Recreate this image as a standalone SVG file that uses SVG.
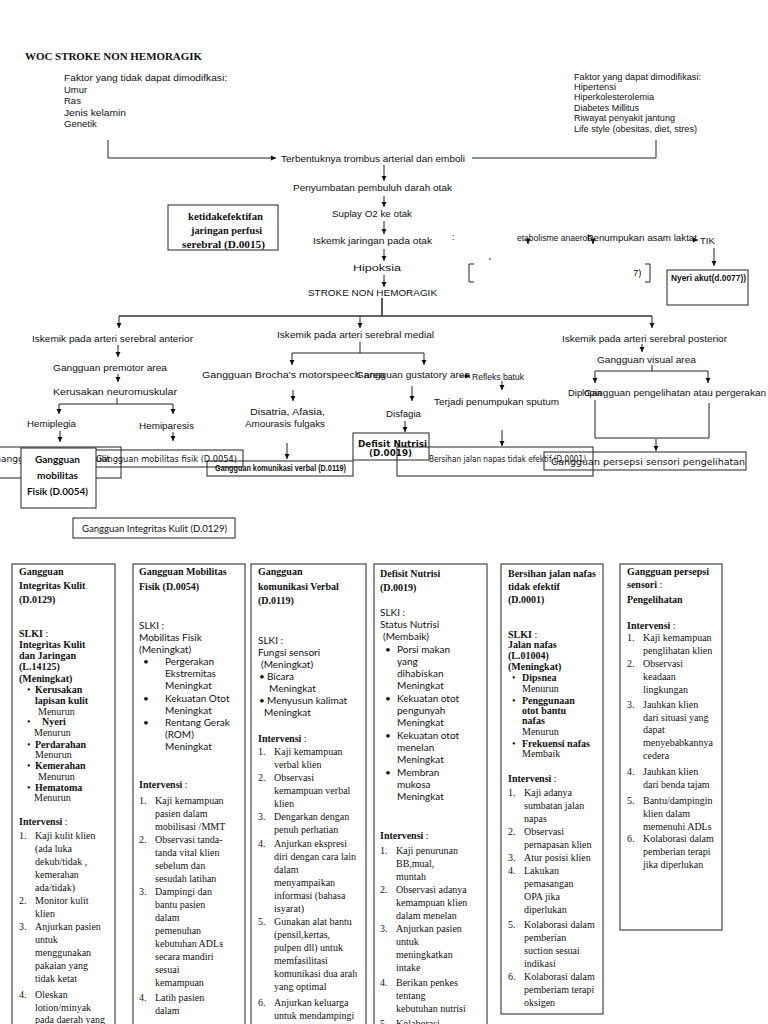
<svg xmlns="http://www.w3.org/2000/svg" width="768" height="1024" viewBox="0 0 768 1024">
<defs>
<style>
.sa{font-family:"Liberation Sans",Arial,sans-serif;font-size:9.5px;fill:#111}
.sr{font-family:"Liberation Serif","Times New Roman",serif;font-size:10px;fill:#111}
.ca{font-family:Lato,"Liberation Sans",sans-serif;font-size:10px;fill:#111}
.dv{font-family:"DejaVu Sans",sans-serif;font-size:9px;fill:#111}
.b{font-weight:bold}
.box{fill:none;stroke:#222;stroke-width:1}
.wbox{fill:#fff;stroke:#222;stroke-width:1}
.ln{fill:none;stroke:#222;stroke-width:1}
.hl{fill:none;stroke:#333;stroke-width:1.6}
.arr{marker-end:url(#ah)}
</style>
<marker id="ah" viewBox="0 0 6 6" refX="6" refY="3" markerWidth="5" markerHeight="6" markerUnits="userSpaceOnUse" orient="auto"><path d="M0,0L6,3L0,6z" fill="#111"/></marker>
</defs>
<rect width="768" height="1024" fill="#fff"/>

<text id="title" class="sr b" x="25" y="60" font-size="11" textLength="177" lengthAdjust="spacingAndGlyphs">WOC STROKE NON HEMORAGIK</text>

<g id="faktor-tidak">
<text class="sa" x="64" y="81" textLength="163" lengthAdjust="spacingAndGlyphs">Faktor yang tidak dapat dimodifkasi:</text>
<text class="sa" x="64" y="92.5">Umur</text>
<text class="sa" x="64" y="104">Ras</text>
<text class="sa" x="64" y="115.5" textLength="62" lengthAdjust="spacingAndGlyphs">Jenis kelamin</text>
<text class="sa" x="64" y="127">Genetik</text>
</g>

<g id="faktor-dapat">
<text class="sa" x="574" y="79.5" textLength="127" lengthAdjust="spacingAndGlyphs">Faktor yang dapat dimodifikasi:</text>
<text class="sa" x="574" y="90" textLength="42" lengthAdjust="spacingAndGlyphs">Hipertensi</text>
<text class="sa" x="574" y="100" textLength="80" lengthAdjust="spacingAndGlyphs">Hiperkolesterolemia</text>
<text class="sa" x="574" y="110.5" textLength="65" lengthAdjust="spacingAndGlyphs">Diabetes Millitus</text>
<text class="sa" x="574" y="121" textLength="101" lengthAdjust="spacingAndGlyphs">Riwayat penyakit jantung</text>
<text class="sa" x="574" y="131.5" textLength="123" lengthAdjust="spacingAndGlyphs">Life style (obesitas, diet, stres)</text>
</g>

<g id="n-trombus"><text class="sa" x="281" y="162" textLength="184" lengthAdjust="spacingAndGlyphs">Terbentuknya trombus arterial dan emboli</text></g>
<g id="n-penyumbatan"><text class="sa" x="293" y="190.5" textLength="159" lengthAdjust="spacingAndGlyphs">Penyumbatan pembuluh darah otak</text></g>
<g id="n-suplay"><text class="sa" x="332" y="216.5" textLength="80" lengthAdjust="spacingAndGlyphs">Suplay O2 ke otak</text></g>
<g id="n-iskemk"><text class="sa" x="313" y="243.5" textLength="119" lengthAdjust="spacingAndGlyphs">Iskemk jaringan pada otak</text></g>
<g id="n-hipoksia"><text class="sa" x="353" y="270.5" textLength="48" lengthAdjust="spacingAndGlyphs">Hipoksia</text></g>
<g id="n-stroke"><text class="sa" x="308" y="295.5" textLength="129" lengthAdjust="spacingAndGlyphs">STROKE NON HEMORAGIK</text></g>

<g id="n-perfusi">
<rect class="box" x="168" y="205" width="110" height="45"/>
<text class="sr b" font-size="9" x="188" y="219.5" textLength="75" lengthAdjust="spacingAndGlyphs">ketidakefektifan</text>
<text class="sr b" font-size="9" x="191" y="233.5" textLength="71" lengthAdjust="spacingAndGlyphs">jaringan perfusi</text>
<text class="sr b" font-size="9" x="182" y="247.5" textLength="83" lengthAdjust="spacingAndGlyphs">serebral (D.0015)</text>
</g>

<g id="n-metabolisme">
<text class="sa" x="452" y="240" font-size="7" fill="#999">:</text>
<text class="sa" x="517" y="240.5" textLength="75" lengthAdjust="spacingAndGlyphs">etabolisme anaerob</text>
<text class="sa" x="587" y="240.5" textLength="110" lengthAdjust="spacingAndGlyphs">Penumpukan asam laktat</text>
<text class="sa" x="700" y="244" font-size="10" fill="#444">TIK</text>
<circle cx="490" cy="259" r="0.8" fill="#111"/>
<path class="ln" d="M474,264H469V282H474M645,264H650V282H645"/>
<text class="sa" x="633" y="276">7)</text>
</g>

<g id="n-nyeri">
<rect class="box" x="667" y="270" width="81" height="35"/>
<text class="sa b" font-size="6.5" x="671" y="280.5" textLength="75" lengthAdjust="spacingAndGlyphs">Nyeri akut(d.0077))</text>
</g>

<g id="n-anterior"><text class="sa" x="32" y="341.5" textLength="161" lengthAdjust="spacingAndGlyphs">Iskemik pada arteri serebral anterior</text></g>
<g id="n-medial"><text class="sa" x="277" y="337.5" textLength="157" lengthAdjust="spacingAndGlyphs">Iskemik pada arteri serebral medial</text></g>
<g id="n-posterior"><text class="sa" x="562" y="341.5" textLength="165" lengthAdjust="spacingAndGlyphs">Iskemik pada arteri serebral posterior</text></g>
<g id="n-premotor"><text class="sa" x="53" y="370.5" textLength="114" lengthAdjust="spacingAndGlyphs">Gangguan premotor area</text></g>
<g id="n-neuromuskular"><text class="sa" x="53" y="394.5" textLength="124" lengthAdjust="spacingAndGlyphs">Kerusakan neuromuskular</text></g>
<g id="n-hemiplegia"><text class="sa" x="27" y="426.5" textLength="49" lengthAdjust="spacingAndGlyphs">Hemiplegia</text></g>
<g id="n-hemiparesis"><text class="sa" x="139" y="428.5" textLength="55" lengthAdjust="spacingAndGlyphs">Hemiparesis</text></g>
<g id="n-brocha"><text class="sa" x="202" y="377.5" textLength="183" lengthAdjust="spacingAndGlyphs">Gangguan Brocha's motorspeech area</text></g>
<g id="n-gustatory"><text class="sa" x="356" y="377.5" textLength="114" lengthAdjust="spacingAndGlyphs">Gangguan gustatory area</text></g>
<g id="n-refleks"><text class="sa" x="472" y="379.5" textLength="52" lengthAdjust="spacingAndGlyphs">Refleks batuk</text></g>
<g id="n-disatria">
<text class="sa" x="250" y="414.5" textLength="75" lengthAdjust="spacingAndGlyphs">Disatria, Afasia,</text>
<text class="sa" x="245" y="426.5" textLength="80" lengthAdjust="spacingAndGlyphs">Amourasis fulgaks</text>
</g>
<g id="n-disfagia"><text class="sa" x="386" y="416.5" textLength="35" lengthAdjust="spacingAndGlyphs">Disfagia</text></g>
<g id="n-sputum"><text class="sa" x="434" y="404.5" textLength="125" lengthAdjust="spacingAndGlyphs">Terjadi penumpukan sputum</text></g>
<g id="n-visual"><text class="sa" x="597" y="362.5" textLength="99" lengthAdjust="spacingAndGlyphs">Gangguan visual area</text></g>
<g id="n-diplopia"><text class="sa" x="568" y="395.5" textLength="34" lengthAdjust="spacingAndGlyphs">Diplopia</text></g>
<g id="n-pengelihatan"><text class="sa" x="584" y="395.5" textLength="182" lengthAdjust="spacingAndGlyphs">Gangguan pengelihatan atau pergerakan</text></g>

<g id="d-integritas-1">
<rect class="box" x="-10" y="447" width="131" height="31"/>
<text class="dv" x="-6" y="461.5" textLength="116" lengthAdjust="spacingAndGlyphs">Gangguan Integritas Kulit</text>
</g>
<g id="d-mobilitas-2">
<rect class="box" x="90" y="450" width="153" height="17"/>
<text class="dv" x="96" y="461.5" textLength="141" lengthAdjust="spacingAndGlyphs">Gangguan mobilitas fisik (D.0054)</text>
</g>
<g id="d-mobilitas-1">
<rect class="wbox" x="21" y="448" width="75" height="60"/>
<text class="ca b" x="35" y="463" textLength="45" lengthAdjust="spacingAndGlyphs">Gangguan</text>
<text class="ca b" x="37" y="479" textLength="41" lengthAdjust="spacingAndGlyphs">mobilitas</text>
<text class="ca b" x="27" y="494.5" textLength="61" lengthAdjust="spacingAndGlyphs">Fisik (D.0054)</text>
</g>
<g id="d-komunikasi">
<rect class="box" x="207" y="461" width="146" height="15"/>
<text class="sa b" font-size="6.5" x="215" y="470.5" textLength="131" lengthAdjust="spacingAndGlyphs">Gangguan komunikasi verbal (D.0119)</text>
</g>
<g id="d-defisit">
<rect class="box" x="353" y="433" width="76" height="27"/>
<text class="dv b" x="358" y="446.5" textLength="69" lengthAdjust="spacingAndGlyphs">Defisit Nutrisi</text>
<text class="dv b" x="369" y="456" textLength="43" lengthAdjust="spacingAndGlyphs">(D.0019)</text>
</g>
<g id="d-bersihan">
<rect class="box" x="397" y="447" width="196" height="29"/>
<text class="dv" x="429" y="461.5" textLength="157" lengthAdjust="spacingAndGlyphs">Bersihan jalan napas tidak efektif (D.0001)</text>
</g>
<g id="d-persepsi">
<rect class="box" x="544" y="452" width="202" height="18"/>
<text class="dv" x="551" y="464.5" textLength="194" lengthAdjust="spacingAndGlyphs">Gangguan persepsi sensori pengelihatan</text>
</g>
<g id="d-integritas-2">
<rect class="box" x="73" y="518" width="162" height="20"/>
<text class="ca" x="82" y="531.5" textLength="145" lengthAdjust="spacingAndGlyphs">Gangguan Integritas Kulit (D.0129)</text>
</g>

<g id="connectors">
<path class="ln arr" d="M108,140V158H276"/>
<path class="ln" d="M656,140V158H472"/>
<path class="ln arr" d="M384,165V181"/>
<path class="ln arr" d="M384,196V207"/>
<path class="ln arr" d="M384,221V234"/>
<path class="ln arr" d="M384,249V261"/>
<path class="ln arr" d="M384,275V287"/>
<path class="hl" d="M382,298V316M119,316H652"/>
<path class="ln arr" d="M119,316V328"/>
<path class="ln arr" d="M360,316V328"/>
<path class="ln arr" d="M652,316V328"/>
<path class="ln arr" d="M118,345V357"/>
<path class="ln arr" d="M118,374V382"/>
<path class="ln" d="M117,398V404M59,404H173"/>
<path class="ln arr" d="M59,404V414"/>
<path class="ln arr" d="M173,404V414"/>
<path class="ln arr" d="M60,431V442"/>
<path class="ln arr" d="M173,432V441"/>
<path class="ln" d="M360,342V353M292,353H424"/>
<path class="ln arr" d="M292,353V365"/>
<path class="ln arr" d="M424,353V365"/>
<path class="ln arr" d="M293,390V401"/>
<path class="ln arr" d="M287,443V459"/>
<path class="ln arr" d="M412,386V401"/>
<path class="ln arr" d="M405,421V432"/>
<path class="ln arr" d="M460,376H470"/>
<path class="ln arr" d="M502,381V390"/>
<path class="ln arr" d="M502,430V446"/>
<path class="ln arr" d="M642,344V352"/>
<path class="ln" d="M652,365V371M595,371H708"/>
<path class="ln arr" d="M595,371V383"/>
<path class="ln arr" d="M708,371V383"/>
<path class="ln" d="M595,400V438H709V403"/>
<path class="ln arr" d="M656,439V451"/>
<path class="ln arr" d="M714,248V266"/>
<path class="ln arr" d="M528,238V244"/>
<path class="ln arr" d="M593,238V244"/>
<path class="ln arr" d="M692,240H698"/>
</g>

<g id="col-integritas">
<rect class="box" x="12" y="564" width="103" height="480"/>
<text class="sr b"><tspan x="19" y="574.5">Gangguan</tspan><tspan x="19" y="588.5">Integritas Kulit</tspan><tspan x="19" y="602.5">(D.0129)</tspan></text>
<text class="sr"><tspan x="19" y="636.5" font-weight="bold">SLKI</tspan><tspan> :</tspan></text>
<text class="sr b"><tspan x="19" y="647.5">Integritas Kulit</tspan><tspan x="19" y="659">dan Jaringan</tspan><tspan x="19" y="670">(L.14125)</tspan><tspan x="19" y="681.5">(Meningkat)</tspan></text>
<text class="sr">
<tspan x="27" y="693">•</tspan><tspan x="35" y="693" font-weight="bold">Kerusakan</tspan>
<tspan x="35" y="704" font-weight="bold">lapisan kulit</tspan>
<tspan x="38" y="714.5">Menurun</tspan>
<tspan x="27" y="725">•</tspan><tspan x="42" y="725" font-weight="bold">Nyeri</tspan>
<tspan x="34" y="735.5">Menurun</tspan>
<tspan x="27" y="747.5">•</tspan><tspan x="35" y="747.5" font-weight="bold">Perdarahan</tspan>
<tspan x="35" y="758">Menurun</tspan>
<tspan x="27" y="769">•</tspan><tspan x="35" y="769" font-weight="bold">Kemerahan</tspan>
<tspan x="38" y="779.5">Menurun</tspan>
<tspan x="27" y="790.5">•</tspan><tspan x="35" y="790.5" font-weight="bold">Hematoma</tspan>
<tspan x="34" y="801">Menurun</tspan>
</text>
<text class="sr"><tspan x="19" y="824.5" font-weight="bold">Intervensi</tspan><tspan> :</tspan></text>
<text class="sr">
<tspan x="19" y="838.5">1.</tspan><tspan x="35" y="838.5">Kaji kulit klien</tspan>
<tspan x="35" y="852">(ada luka</tspan>
<tspan x="35" y="865">dekub/tidak ,</tspan>
<tspan x="35" y="878">kemerahan</tspan>
<tspan x="35" y="890.5">ada/tidak)</tspan>
<tspan x="19" y="903.5">2.</tspan><tspan x="35" y="903.5">Monitor kulit</tspan>
<tspan x="35" y="916.5">klien</tspan>
<tspan x="19" y="929.5">3.</tspan><tspan x="35" y="929.5">Anjurkan pasien</tspan>
<tspan x="35" y="942.5">untuk</tspan>
<tspan x="35" y="955.5">menggunakan</tspan>
<tspan x="35" y="968.5">pakaian yang</tspan>
<tspan x="35" y="981.5">tidak ketat</tspan>
<tspan x="19" y="997.5">4.</tspan><tspan x="35" y="997.5">Oleskan</tspan>
<tspan x="35" y="1010.5">lotion/minyak</tspan>
<tspan x="35" y="1022.5">pada daerah yang</tspan>
</text>
</g>

<g id="col-mobilitas">
<rect class="box" x="133" y="564" width="112" height="480"/>
<text class="sr b"><tspan x="139" y="574.5">Gangguan Mobilitas</tspan><tspan x="139" y="589.5">Fisik (D.0054)</tspan></text>
<text class="ca" font-size="9.5">
<tspan x="139" y="628.5">SLKI :</tspan>
<tspan x="139" y="640.5">Mobilitas Fisik</tspan>
<tspan x="139" y="652.5">(Meningkat)</tspan>
<tspan x="143" y="664.5">•</tspan><tspan x="165" y="664.5">Pergerakan</tspan>
<tspan x="165" y="676.5">Ekstremitas</tspan>
<tspan x="165" y="688.5">Meningkat</tspan>
<tspan x="143" y="701.5">•</tspan><tspan x="165" y="701.5">Kekuatan Otot</tspan>
<tspan x="165" y="713.5">Meningkat</tspan>
<tspan x="143" y="725.5">•</tspan><tspan x="165" y="725.5">Rentang Gerak</tspan>
<tspan x="165" y="737.5">(ROM)</tspan>
<tspan x="165" y="749.5">Meningkat</tspan>
</text>
<text class="sr"><tspan x="139" y="787.5" font-weight="bold">Intervensi</tspan><tspan> :</tspan></text>
<text class="sr">
<tspan x="139" y="803.5">1.</tspan><tspan x="155" y="803.5">Kaji kemampuan</tspan>
<tspan x="155" y="816.5">pasien dalam</tspan>
<tspan x="155" y="829.5">mobilisasi /MMT</tspan>
<tspan x="139" y="842.5">2.</tspan><tspan x="155" y="842.5">Observasi tanda-</tspan>
<tspan x="155" y="855.5">tanda vital klien</tspan>
<tspan x="155" y="868.5">sebelum dan</tspan>
<tspan x="155" y="881.5">sesudah latihan</tspan>
<tspan x="139" y="894.5">3.</tspan><tspan x="155" y="894.5">Dampingi dan</tspan>
<tspan x="155" y="907.5">bantu pasien</tspan>
<tspan x="155" y="920.5">dalam</tspan>
<tspan x="155" y="933.5">pemenuhan</tspan>
<tspan x="155" y="946.5">kebutuhan ADLs</tspan>
<tspan x="155" y="959.5">secara mandiri</tspan>
<tspan x="155" y="972.5">sesuai</tspan>
<tspan x="155" y="985.5">kemampuan</tspan>
<tspan x="139" y="1000.5">4.</tspan><tspan x="155" y="1000.5">Latih pasien</tspan>
<tspan x="155" y="1013.5">dalam</tspan>
</text>
</g>

<g id="col-komunikasi">
<rect class="box" x="251" y="564" width="115" height="480"/>
<text class="sr b"><tspan x="258" y="574.5">Gangguan</tspan><tspan x="258" y="589.5">komunikasi Verbal</tspan><tspan x="258" y="603.5">(D.0119)</tspan></text>
<text class="ca" font-size="9.5">
<tspan x="258" y="643.5">SLKI :</tspan>
<tspan x="258" y="655.5">Fungsi sensori</tspan>
<tspan x="261" y="667.5">(Meningkat)</tspan>
<tspan x="259" y="679.5">•</tspan><tspan x="267" y="679.5">Bicara</tspan>
<tspan x="269" y="691.5">Meningkat</tspan>
<tspan x="259" y="703.5">•</tspan><tspan x="267" y="703.5">Menyusun kalimat</tspan>
<tspan x="264" y="716">Meningkat</tspan>
</text>
<text class="sr"><tspan x="258" y="741.5" font-weight="bold">Intervensi</tspan><tspan> :</tspan></text>
<text class="sr">
<tspan x="258" y="754.5">1.</tspan><tspan x="274" y="754.5">Kaji kemampuan</tspan>
<tspan x="274" y="767.5">verbal klien</tspan>
<tspan x="258" y="780.5">2.</tspan><tspan x="274" y="780.5">Observasi</tspan>
<tspan x="274" y="793.5">kemampuan verbal</tspan>
<tspan x="274" y="806.5">klien</tspan>
<tspan x="258" y="819.5">3.</tspan><tspan x="274" y="819.5">Dengarkan dengan</tspan>
<tspan x="274" y="832.5">penuh perhatian</tspan>
<tspan x="258" y="846.5">4.</tspan><tspan x="274" y="846.5">Anjurkan ekspresi</tspan>
<tspan x="274" y="859.5">diri dengan cara lain</tspan>
<tspan x="274" y="872.5">dalam</tspan>
<tspan x="274" y="885.5">menyampaikan</tspan>
<tspan x="274" y="898.5">informasi (bahasa</tspan>
<tspan x="274" y="911.5">isyarat)</tspan>
<tspan x="258" y="924.5">5.</tspan><tspan x="274" y="924.5">Gunakan alat bantu</tspan>
<tspan x="274" y="937.5">(pensil,kertas,</tspan>
<tspan x="274" y="950.5">pulpen dll) untuk</tspan>
<tspan x="274" y="963.5">memfasilitasi</tspan>
<tspan x="274" y="976.5">komunikasi dua arah</tspan>
<tspan x="274" y="989.5">yang optimal</tspan>
<tspan x="258" y="1005.5">6.</tspan><tspan x="274" y="1005.5">Anjurkan keluarga</tspan>
<tspan x="274" y="1018.5">untuk mendampingi</tspan>
</text>
</g>

<g id="col-nutrisi">
<rect class="box" x="374" y="564" width="113" height="480"/>
<text class="sr b"><tspan x="380" y="576.5">Defisit Nutrisi</tspan><tspan x="380" y="590.5">(D.0019)</tspan></text>
<text class="ca" font-size="9.5">
<tspan x="380" y="615.5">SLKI :</tspan>
<tspan x="380" y="627.5">Status Nutrisi</tspan>
<tspan x="383" y="639.5">(Membaik)</tspan>
<tspan x="385" y="652.5">•</tspan><tspan x="397" y="652.5">Porsi makan</tspan>
<tspan x="397" y="664.5">yang</tspan>
<tspan x="397" y="676.5">dihabiskan</tspan>
<tspan x="397" y="688.5">Meningkat</tspan>
<tspan x="385" y="701.5">•</tspan><tspan x="397" y="701.5">Kekuatan otot</tspan>
<tspan x="397" y="713.5">pengunyah</tspan>
<tspan x="397" y="725.5">Meningkat</tspan>
<tspan x="385" y="738.5">•</tspan><tspan x="397" y="738.5">Kekuatan otot</tspan>
<tspan x="397" y="750.5">menelan</tspan>
<tspan x="397" y="762.5">Meningkat</tspan>
<tspan x="385" y="775.5">•</tspan><tspan x="397" y="775.5">Membran</tspan>
<tspan x="397" y="787.5">mukosa</tspan>
<tspan x="397" y="799.5">Meningkat</tspan>
</text>
<text class="sr"><tspan x="380" y="838.5" font-weight="bold">Intervensi</tspan><tspan> :</tspan></text>
<text class="sr">
<tspan x="380" y="853.5">1.</tspan><tspan x="396" y="853.5">Kaji penurunan</tspan>
<tspan x="396" y="866.5">BB,mual,</tspan>
<tspan x="396" y="879.5">muntah</tspan>
<tspan x="380" y="892.5">2.</tspan><tspan x="396" y="892.5">Observasi adanya</tspan>
<tspan x="396" y="905.5">kemampuan klien</tspan>
<tspan x="396" y="918.5">dalam menelan</tspan>
<tspan x="380" y="931.5">3.</tspan><tspan x="396" y="931.5">Anjurkan pasien</tspan>
<tspan x="396" y="944.5">untuk</tspan>
<tspan x="396" y="957.5">meningkatkan</tspan>
<tspan x="396" y="970.5">intake</tspan>
<tspan x="380" y="985.5">4.</tspan><tspan x="396" y="985.5">Berikan penkes</tspan>
<tspan x="396" y="998.5">tentang</tspan>
<tspan x="396" y="1011.5">kebutuhan nutrisi</tspan>
<tspan x="380" y="1027">5.</tspan><tspan x="396" y="1027">Kolaborasi</tspan>
</text>
</g>

<g id="col-bersihan">
<rect class="box" x="501" y="564" width="102" height="450"/>
<text class="sr b"><tspan x="508" y="576.5">Bersihan jalan nafas</tspan><tspan x="508" y="589.5">tidak efektif</tspan><tspan x="508" y="602.5">(D.0001)</tspan></text>
<text class="sr"><tspan x="508" y="637.5" font-weight="bold">SLKI</tspan><tspan> :</tspan></text>
<text class="sr b"><tspan x="508" y="648">Jalan nafas</tspan><tspan x="508" y="659">(L.01004)</tspan><tspan x="508" y="670">(Meningkat)</tspan></text>
<text class="sr">
<tspan x="512" y="681">•</tspan><tspan x="522" y="681" font-weight="bold">Dipsnea</tspan>
<tspan x="522" y="692">Menurun</tspan>
<tspan x="512" y="704">•</tspan><tspan x="522" y="704" font-weight="bold">Penggunaan</tspan>
<tspan x="522" y="714" font-weight="bold">otot bantu</tspan>
<tspan x="522" y="724" font-weight="bold">nafas</tspan>
<tspan x="522" y="735">Menurun</tspan>
<tspan x="512" y="747">•</tspan><tspan x="522" y="747" font-weight="bold">Frekuensi nafas</tspan>
<tspan x="522" y="757">Membaik</tspan>
</text>
<text class="sr"><tspan x="508" y="781.5" font-weight="bold">Intervensi</tspan><tspan> :</tspan></text>
<text class="sr">
<tspan x="508" y="795.5">1.</tspan><tspan x="524" y="795.5">Kaji adanya</tspan>
<tspan x="524" y="808.5">sumbatan jalan</tspan>
<tspan x="524" y="821.5">napas</tspan>
<tspan x="508" y="834.5">2.</tspan><tspan x="524" y="834.5">Observasi</tspan>
<tspan x="524" y="847.5">pernapasan klien</tspan>
<tspan x="508" y="860.5">3.</tspan><tspan x="524" y="860.5">Atur posisi klien</tspan>
<tspan x="508" y="873.5">4.</tspan><tspan x="524" y="873.5">Lakukan</tspan>
<tspan x="524" y="887">pemasangan</tspan>
<tspan x="524" y="900">OPA jika</tspan>
<tspan x="524" y="913">diperlukan</tspan>
<tspan x="508" y="928">5.</tspan><tspan x="524" y="928">Kolaborasi dalam</tspan>
<tspan x="524" y="941">pemberian</tspan>
<tspan x="524" y="954">suction sesuai</tspan>
<tspan x="524" y="967">indikasi</tspan>
<tspan x="508" y="980">6.</tspan><tspan x="524" y="980">Kolaborasi dalam</tspan>
<tspan x="524" y="993">pemberiam terapi</tspan>
<tspan x="524" y="1006">oksigen</tspan>
</text>
</g>

<g id="col-persepsi">
<rect class="box" x="620" y="564" width="102" height="366"/>
<text class="sr"><tspan x="627" y="574.5" font-weight="bold">Gangguan persepsi</tspan><tspan x="627" y="587.5" font-weight="bold">sensori</tspan><tspan> :</tspan><tspan x="627" y="602.5" font-weight="bold">Pengelihatan</tspan></text>
<text class="sr"><tspan x="627" y="628.5" font-weight="bold">Intervensi</tspan><tspan> :</tspan></text>
<text class="sr">
<tspan x="627" y="640.5">1.</tspan><tspan x="643" y="640.5">Kaji kemampuan</tspan>
<tspan x="643" y="653.5">penglihatan klien</tspan>
<tspan x="627" y="666.5">2.</tspan><tspan x="643" y="666.5">Observasi</tspan>
<tspan x="643" y="679.5">keadaan</tspan>
<tspan x="643" y="692.5">lingkungan</tspan>
<tspan x="627" y="707.5">3.</tspan><tspan x="643" y="707.5">Jauhkan klien</tspan>
<tspan x="643" y="720.5">dari situasi yang</tspan>
<tspan x="643" y="732.5">dapat</tspan>
<tspan x="643" y="745.5">menyebabkannya</tspan>
<tspan x="643" y="758.5">cedera</tspan>
<tspan x="627" y="774.5">4.</tspan><tspan x="643" y="774.5">Jauhkan klien</tspan>
<tspan x="643" y="787.5">dari benda tajam</tspan>
<tspan x="627" y="803.5">5.</tspan><tspan x="643" y="803.5">Bantu/dampingin</tspan>
<tspan x="643" y="816.5">klien dalam</tspan>
<tspan x="643" y="829.5">memenuhi ADLs</tspan>
<tspan x="627" y="841.5">6.</tspan><tspan x="643" y="841.5">Kolaborasi dalam</tspan>
<tspan x="643" y="854.5">pemberian terapi</tspan>
<tspan x="643" y="867.5">jika diperlukan</tspan>
</text>
</g>
</svg>
